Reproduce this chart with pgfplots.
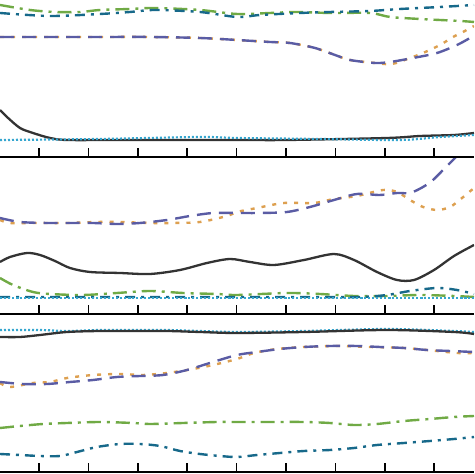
\documentclass[border=0pt]{standalone}
\usepackage{pgfplots}
\pgfplotsset{compat=1.18}
\definecolor{cblack}{HTML}{333333}
\definecolor{corange}{HTML}{DDA050}
\definecolor{cpurple}{HTML}{5A5CA4}
\definecolor{cgreen}{HTML}{70AA45}
\definecolor{cteal}{HTML}{17698A}
\definecolor{ccyan}{HTML}{35A6CF}
\pgfplotsset{
  panel/.style={
    x=0.5pt, y=0.5pt, xmin=0, xmax=474,
    anchor=south west,
    axis x line=bottom, axis y line=none,
    x axis line style={-, line width=0.75pt, black},
    xtick={39,88.4,137.8,187.2,236.6,286,335.4,384.8,434.2},
    xticklabels={},
    tick align=inside,
    major tick length=4.5pt,
    every tick/.style={black, line width=0.75pt},
    enlargelimits=false,
    clip=true,
  },
  sblack/.style={cblack, line width=1.15pt, solid, smooth, tension=0.5},
  sorange/.style={corange, line width=1.2pt, dash pattern=on 2pt off 3.5pt, smooth, tension=0.5},
  spurple/.style={cpurple, line width=1.2pt, dash pattern=on 7pt off 4pt, smooth, tension=0.5},
  sgreen/.style={cgreen, line width=1.2pt, dash pattern=on 7pt off 3pt on 1.5pt off 3pt, smooth, tension=0.5},
  steal/.style={cteal, line width=1.2pt, dash pattern=on 5pt off 3pt on 1.5pt off 3pt, smooth, tension=0.5},
  scyan/.style={ccyan, line width=1.1pt, dash pattern=on 1pt off 1pt, smooth, tension=0.5},
}
\begin{document}
\begin{tikzpicture}
\path[use as bounding box] (0,0) rectangle (237pt,237pt);
% Panel 1
\begin{axis}[panel, ymin=-157, ymax=0, at={(0pt,158.5pt)}]
\addplot[sgreen] coordinates {(0,-5) (30,-10) (55,-12) (80,-12) (100,-10) (130,-9) (155,-8) (200,-10) (237,-14) (270,-13) (297,-12) (330,-13) (370,-13) (390,-17) (420,-19) (460,-21) (474,-22)};
\addplot[steal] coordinates {(0,-13) (50,-16) (100,-14) (130,-12) (155,-10) (200,-12) (237,-17) (260,-15) (300,-13) (330,-12) (370,-11) (400,-9) (440,-7) (474,-5)};
\addplot[sorange] coordinates {(0,-37) (50,-37) (100,-37) (150,-37) (200,-38) (237,-40) (270,-42) (290,-43) (315,-48) (335,-55) (350,-60) (375,-63) (392,-64) (410,-58) (423,-53) (440,-45) (453,-37) (463,-32) (474,-26)};
\addplot[spurple] coordinates {(0,-37) (50,-37) (100,-37) (150,-37) (200,-38) (237,-40) (270,-42) (290,-43) (315,-48) (335,-55) (350,-60) (375,-63) (390,-62) (413,-58) (437,-53) (457,-45) (470,-38) (474,-36)};
\addplot[sblack] coordinates {(0,-110) (7,-117) (20,-128) (33,-133) (50,-138) (67,-140) (120,-140) (237,-140) (287,-140) (387,-138) (420,-136) (454,-135) (474,-133)};
\addplot[scyan] coordinates {(0,-140) (100,-139) (200,-137) (237,-138) (320,-139) (400,-140) (440,-137) (474,-135)};
\end{axis}
% Panel 2
\begin{axis}[panel, ymin=-314, ymax=-159, at={(0pt,80pt)}]
\addplot[sorange] coordinates {(0,-220) (10,-223) (33,-223) (67,-223) (97,-222) (120,-222) (150,-223) (173,-223) (200,-222) (227,-216) (237,-212) (257,-208) (284,-203) (314,-203) (334,-199) (357,-196) (383,-190) (397,-192) (410,-200) (423,-207) (437,-210) (450,-207) (462,-198) (474,-188)};
\addplot[spurple] coordinates {(0,-218) (20,-222) (47,-223) (67,-223) (93,-223) (117,-224) (140,-223) (167,-220) (190,-216) (213,-213) (237,-213) (260,-213) (287,-212) (310,-207) (334,-200) (357,-194) (380,-195) (397,-193) (410,-193) (423,-187) (433,-180) (443,-170) (450,-163) (456,-157)};
\addplot[sblack] coordinates {(0,-262) (10,-257) (27,-253) (40,-255) (55,-261) (70,-268) (90,-272) (120,-273) (150,-274) (180,-270) (207,-263) (230,-259) (250,-262) (274,-265) (304,-260) (334,-254) (354,-260) (377,-272) (397,-280) (414,-280) (434,-270) (454,-256) (474,-245)};
\addplot[sgreen] coordinates {(0,-278) (13,-285) (33,-292) (50,-294) (83,-295) (117,-293) (150,-291) (183,-293) (217,-294) (237,-295) (287,-293) (320,-294) (354,-296) (387,-296) (420,-295) (454,-296) (474,-297)};
\addplot[steal] coordinates {(0,-297) (100,-297) (200,-297) (300,-297) (360,-297) (387,-295) (410,-291) (437,-288) (457,-290) (474,-294)};
\addplot[scyan] coordinates {(0,-298) (100,-298) (200,-298) (300,-298) (400,-298) (474,-298)};
\end{axis}
% Panel 3
\begin{axis}[panel, ymin=-472, ymax=-316, at={(0pt,1pt)}]
\addplot[scyan] coordinates {(0,-330) (40,-330) (67,-331) (100,-330) (133,-330) (167,-330) (200,-331) (237,-332) (304,-331) (387,-329) (454,-331) (474,-332)};
\addplot[sblack] coordinates {(0,-337) (20,-337) (40,-335) (67,-332) (100,-331) (133,-331) (167,-331) (200,-332) (237,-333) (304,-332) (387,-330) (454,-332) (474,-334)};
\addplot[sorange] coordinates {(0,-383) (10,-387) (33,-383) (50,-382) (67,-378) (93,-375) (120,-374) (143,-375) (167,-373) (193,-369) (213,-365) (237,-359) (254,-353) (277,-349) (304,-347) (337,-346) (370,-347) (404,-348) (437,-351) (457,-353) (474,-353)};
\addplot[spurple] coordinates {(0,-382) (23,-384) (47,-384) (70,-382) (93,-380) (117,-377) (140,-376) (163,-375) (187,-370) (213,-362) (237,-355) (257,-352) (280,-349) (304,-347) (330,-346) (357,-346) (380,-347) (404,-348) (427,-350) (450,-351) (474,-352)};
\addplot[sgreen] coordinates {(0,-428) (20,-426) (43,-424) (67,-423) (100,-422) (133,-423) (150,-424) (183,-423) (217,-422) (237,-422) (270,-422) (304,-422) (330,-423) (354,-425) (377,-424) (404,-421) (430,-419) (454,-417) (474,-416)};
\addplot[steal] coordinates {(0,-454) (20,-455) (40,-456) (60,-456) (77,-452) (97,-447) (120,-444) (140,-444) (160,-446) (180,-451) (200,-454) (220,-456) (237,-457) (257,-455) (280,-453) (304,-451) (330,-450) (354,-448) (377,-445) (404,-443) (430,-441) (454,-439) (474,-437)};
\end{axis}
\end{tikzpicture}
\end{document}
